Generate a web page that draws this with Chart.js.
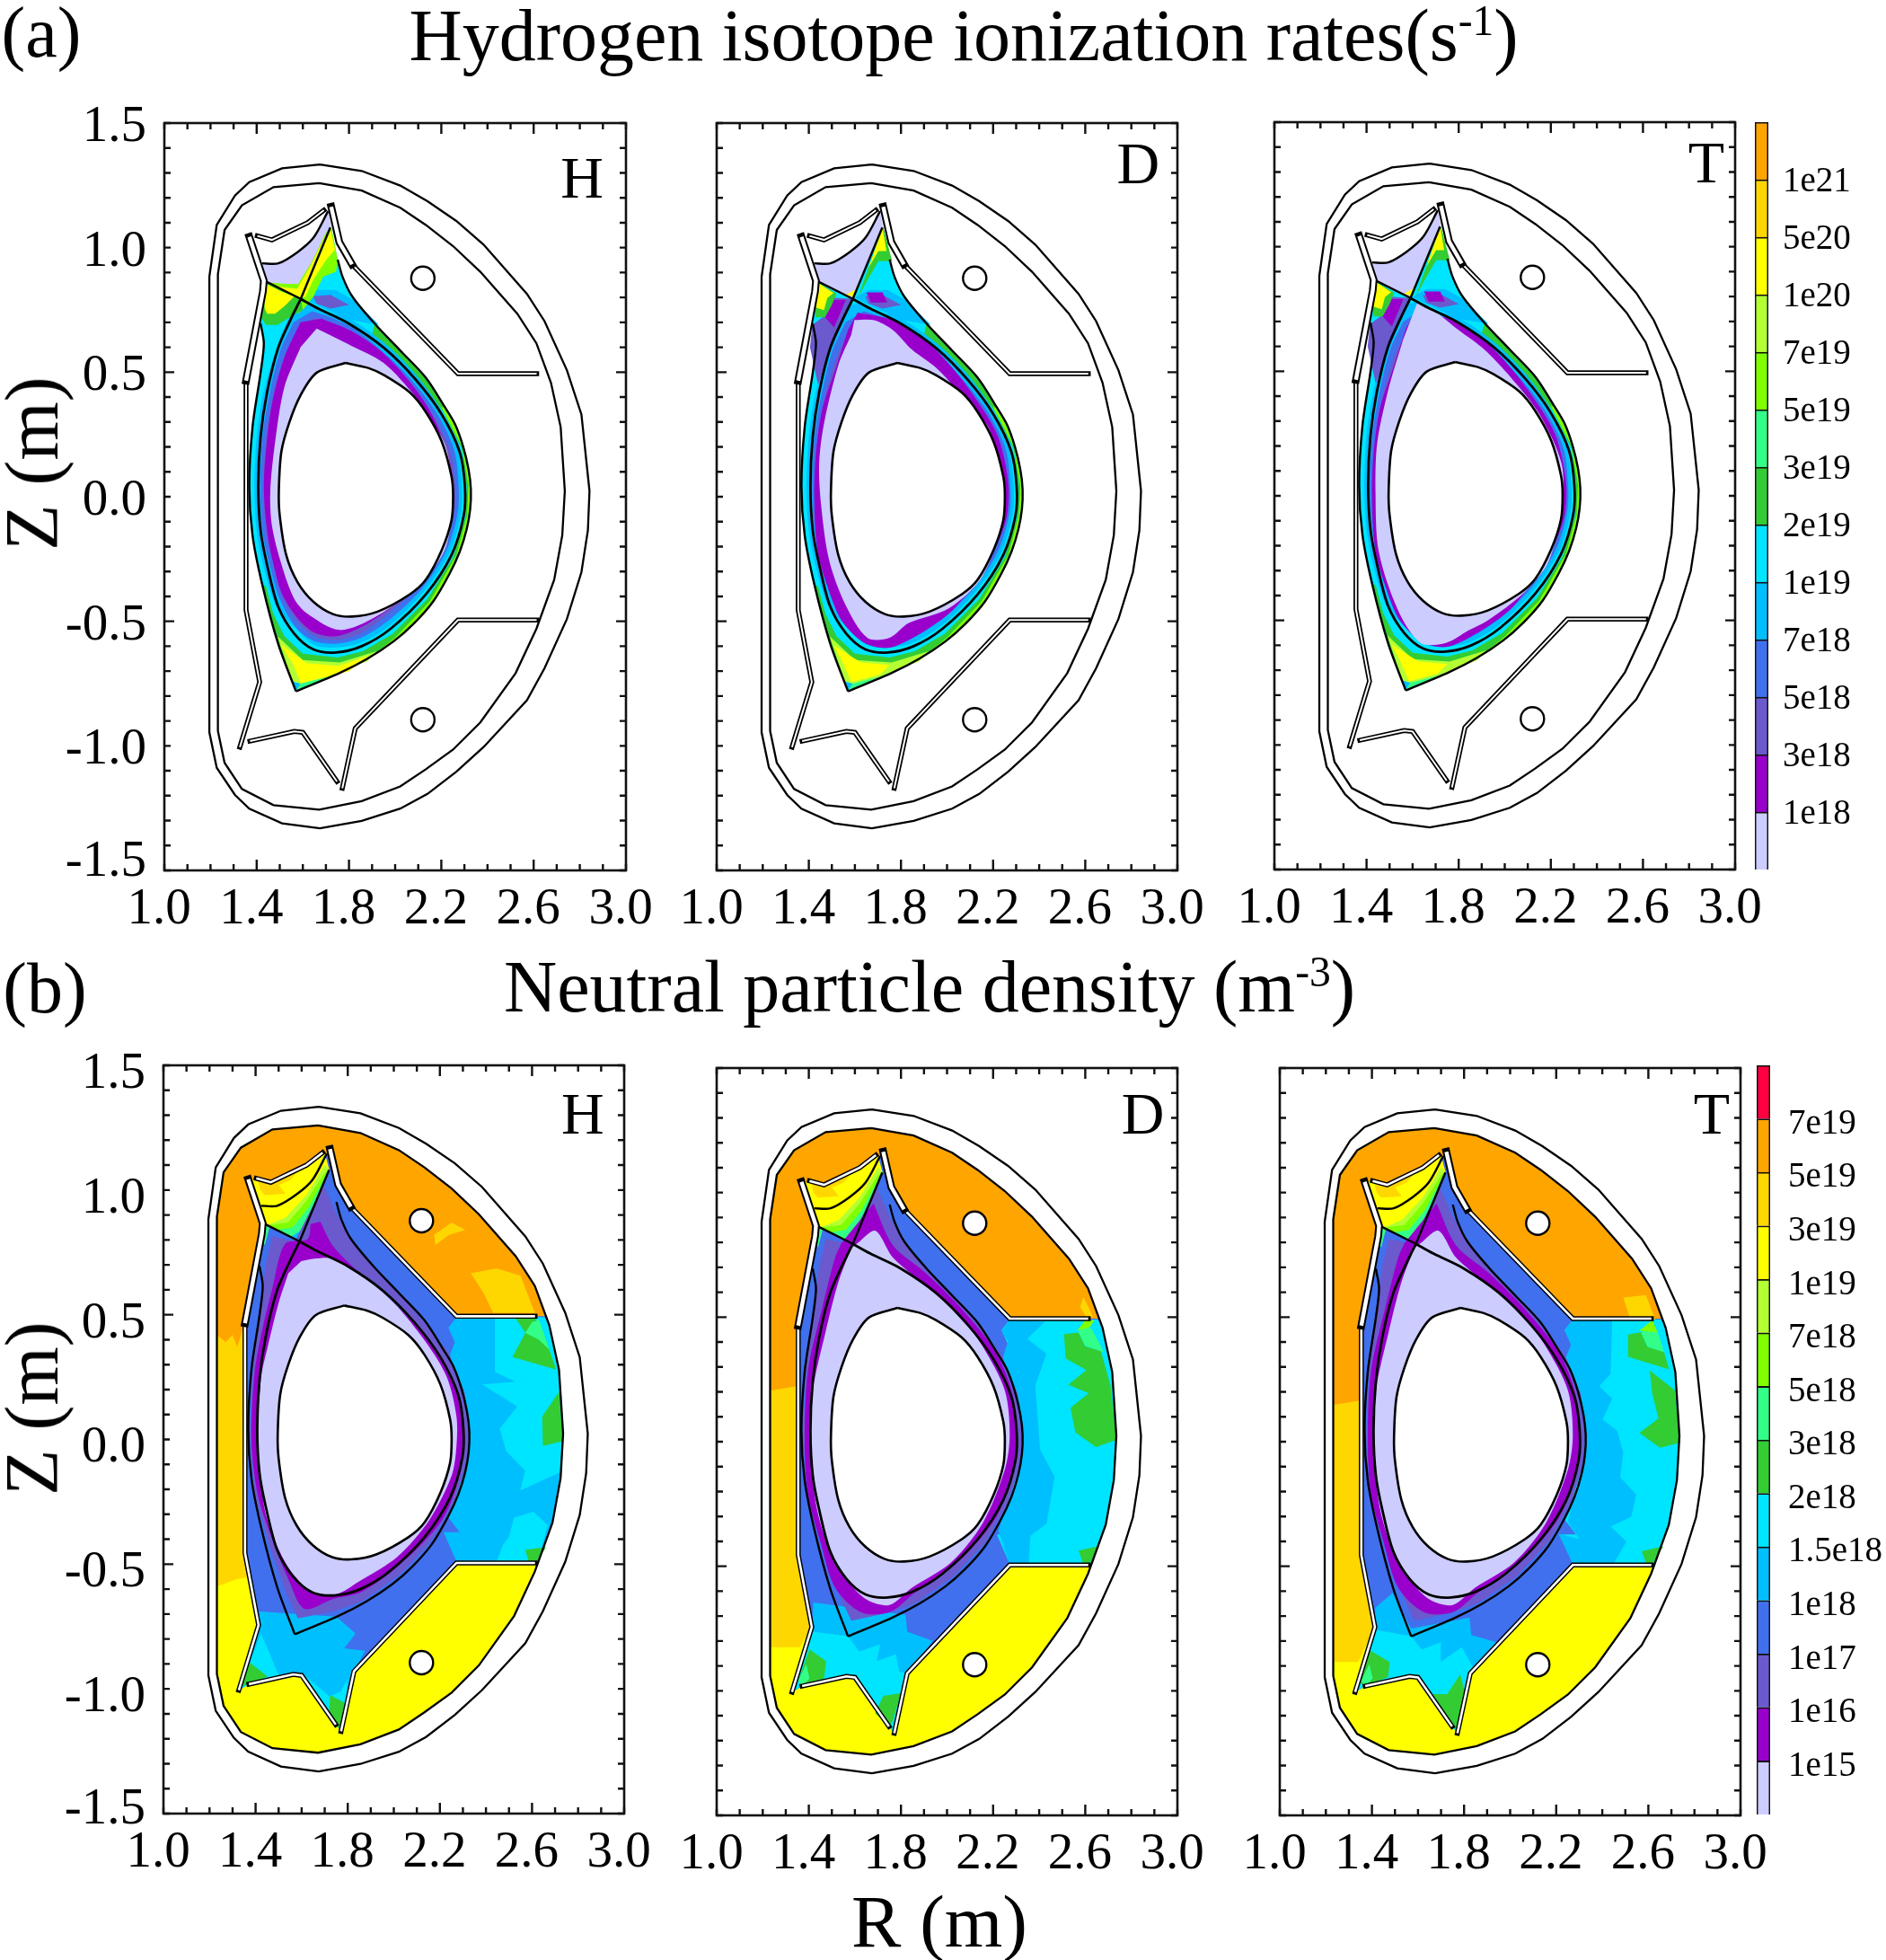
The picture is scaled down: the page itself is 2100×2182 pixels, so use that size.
<!DOCTYPE html>
<html>
<head>
<meta charset="utf-8">
<script src="https://cdn.jsdelivr.net/npm/chart.js"></script>
<style>
  html, body { margin: 0; padding: 0; background: #fff; }
  body { position: relative; width: 2100px; height: 2182px; overflow: hidden; }
  canvas { position: absolute; }
  .txt { position: absolute; font-family: "Liberation Serif", serif; color: #000; white-space: nowrap; transform: translate(-50%, -50%); line-height: 1; }
  .txt sup { font-size: 58%; line-height: 0; }
</style>
</head>
<body>
<script>
// level colours shared by the two colour bars
const LAV = '#ccccff', PUR = '#9900cc', SLA = '#6a5acd', ROY = '#4070ee', DEE = '#00bfff', CYA = '#00e5ff',
      LIM = '#33cc33', SPR = '#33ff88', CHA = '#80ff00', YGR = '#b3ff33', YEL = '#ffff00', GOL = '#ffd700',
      ORA = '#ffa500', RED = '#ff0040';

const rateLevels = ['1e18', '3e18', '5e18', '7e18', '1e19', '2e19', '3e19', '5e19', '7e19', '1e20', '5e20', '1e21'];
const rateColors = [LAV, PUR, SLA, ROY, DEE, CYA, LIM, SPR, CHA, YGR, YEL, GOL, ORA];
const densityLevels = ['1e15', '1e16', '1e17', '1e18', '1.5e18', '2e18', '3e18', '5e18', '7e18', '1e19', '3e19', '5e19', '7e19'];
const densityColors = [LAV, PUR, SLA, ROY, DEE, CYA, LIM, SPR, CHA, YGR, YEL, GOL, ORA, RED];

const rTickValues = [1.0, 1.4, 1.8, 2.2, 2.6, 3.0];
const rTickLabels = ['1.0', '1.4', '1.8', '2.2', '2.6', '3.0'];
// the -1.5 label sits a little above the corner so it clears the R labels
const zTickValues = [1.5, 1.0, 0.5, 0, -0.5, -1.0, -1.45];
const zTickLabels = ['1.5', '1.0', '0.5', '0.0', '-0.5', '-1.0', '-1.5'];
const rMajorTicks = [1.4, 1.8, 2.2, 2.6];
const zMajorTicks = [0.5, -0.5];

// machine outline, all [R, Z] in metres
const wallOuter = [[1.674,1.334],[1.855,1.308],[2.022,1.249],[2.14,1.186],[2.265,1.107],[2.383,1.012],[2.571,.814],[2.647,.705],[2.744,.508],[2.807,.33],[2.842,.023],[2.835,-.135],[2.807,-.303],[2.744,-.491],[2.647,-.689],[2.571,-.817],[2.383,-1.005],[2.265,-1.104],[2.14,-1.193],[2.022,-1.252],[1.855,-1.301],[1.674,-1.331],[1.51,-1.311],[1.368,-1.252],[1.306,-1.197],[1.227,-1.088],[1.195,-.946],[1.195,.883],[1.227,1.091],[1.306,1.209],[1.368,1.263],[1.51,1.318],[1.674,1.334]];
const wallInner = [[1.671,1.259],[1.855,1.229],[2.022,1.16],[2.133,1.091],[2.251,1.006],[2.369,.903],[2.529,.735],[2.612,.616],[2.675,.458],[2.717,.28],[2.735,.023],[2.724,-.155],[2.689,-.333],[2.612,-.53],[2.522,-.708],[2.369,-.906],[2.251,-1.015],[2.133,-1.094],[2.022,-1.163],[1.855,-1.222],[1.671,-1.256],[1.473,-1.238],[1.336,-1.173],[1.261,-1.068],[1.232,-.94],[1.232,.893],[1.261,1.071],[1.336,1.17],[1.473,1.243],[1.671,1.259]];
const coreHole = [[1.785,.537],[1.883,.517],[1.952,.488],[2.063,.419],[2.133,.34],[2.202,.221],[2.244,.082],[2.251,.003],[2.244,-.095],[2.202,-.214],[2.133,-.333],[2.063,-.392],[1.924,-.461],[1.813,-.481],[1.73,-.471],[1.646,-.422],[1.577,-.343],[1.528,-.234],[1.5,-.076],[1.496,.023],[1.507,.181],[1.542,.3],[1.591,.409],[1.66,.498],[1.785,.537]];
const separatrixLoop = [[1.591,.794],[1.667,.755],[1.799,.695],[1.952,.597],[2.091,.468],[2.202,.33],[2.279,.181],[2.302,.043],[2.297,-.076],[2.244,-.234],[2.133,-.392],[1.98,-.53],[1.855,-.6],[1.744,-.625],[1.646,-.613],[1.563,-.55],[1.493,-.441],[1.445,-.273],[1.417,-.135],[1.407,.043],[1.417,.241],[1.445,.419],[1.493,.597],[1.549,.715],[1.591,.794]];
const separatrixLegs = [[[1.442,.863],[1.591,.794]], [[1.591,.794],[1.719,1.081]]];
const meshEdgeRight = [[1.751,.952],[1.772,.883],[1.814,.804],[1.911,.695],[2.022,.587],[2.133,.478],[2.216,.359],[2.26,.29],[2.295,.2],[2.318,.11],[2.328,.03],[2.325,-.05],[2.31,-.13],[2.28,-.22],[2.235,-.31],[2.165,-.42],[2.08,-.51],[1.994,-.58],[1.88,-.65],[1.758,-.708],[1.57,-.781]];
const meshEdgeLeft = [[1.57,-.781],[1.493,-.59],[1.424,-.352],[1.382,-.155],[1.368,.043],[1.382,.28],[1.417,.498],[1.431,.616],[1.417,.695]];
const meshEdge = meshEdgeRight.concat(meshEdgeLeft);
const privateCurve = [[1.424,.937],[1.494,.937],[1.577,.982],[1.647,1.041],[1.709,1.146]];
const meshFill = meshEdge.concat([[1.431,.824],[1.445,.863]], privateCurve, [[1.723,1.081]]);
const solFill = meshEdge.concat([[1.431,.824],[1.445,.863],[1.591,.794],[1.723,1.081]]);

const thickPlates = [
  [[1.368,1.043],[1.431,.867],[1.427,.824],[1.354,.466]],
  [[1.723,1.164],[1.758,1.022],[1.813,.933]]
];
const thinPlates = [
  [[1.354,.466],[1.354,-.455],[1.413,-.744],[1.327,-1.005]],
  [[1.371,-.981],[1.563,-.942],[1.6,-.946],[1.748,-1.143]],
  [[1.771,-1.17],[1.827,-.93],[2.272,-.495],[2.613,-.495]],
  [[1.813,.933],[2.272,.494],[2.613,.494]],
  [[1.403,1.047],[1.466,1.031],[1.621,1.1],[1.691,1.15]]
];
const portCentres = [[2.12,.877],[2.12,-.895]];

// ionization rate bands, hydrogen case
const ringDeepRate = [[1.62,.78],[1.7,.745],[1.8,.715],[1.95,.62],[2.09,.49],[2.2,.345],[2.27,.19],[2.29,.04],[2.285,-.07],[2.235,-.225],[2.125,-.38],[1.98,-.515],[1.855,-.585],[1.745,-.605],[1.65,-.595],[1.57,-.53],[1.485,-.44],[1.43,-.28],[1.4,-.135],[1.39,.04],[1.4,.24],[1.43,.42],[1.48,.58],[1.53,.7],[1.58,.77]];
const ringRoyalRate = [[1.64,.745],[1.72,.72],[1.82,.675],[1.95,.58],[2.07,.47],[2.18,.335],[2.255,.19],[2.275,.04],[2.27,-.07],[2.22,-.22],[2.115,-.37],[1.98,-.49],[1.855,-.565],[1.745,-.59],[1.65,-.58],[1.57,-.525],[1.5,-.41],[1.455,-.27],[1.425,-.135],[1.415,.04],[1.425,.24],[1.455,.41],[1.5,.58],[1.56,.7]];
const ringSlateRate = [[1.65,.72],[1.73,.69],[1.83,.65],[1.95,.565],[2.07,.45],[2.17,.32],[2.24,.18],[2.262,.04],[2.255,-.07],[2.21,-.21],[2.1,-.36],[1.97,-.47],[1.85,-.55],[1.745,-.575],[1.65,-.56],[1.58,-.505],[1.51,-.4],[1.47,-.26],[1.44,-.135],[1.43,.04],[1.44,.23],[1.47,.4],[1.52,.56],[1.58,.67]];
const ringPurpleH = [[1.68,.715],[1.81,.665],[1.95,.575],[2.09,.43],[2.17,.31],[2.235,.15],[2.25,.03],[2.24,-.09],[2.19,-.22],[2.09,-.36],[1.96,-.46],[1.85,-.525],[1.745,-.56],[1.65,-.545],[1.58,-.49],[1.51,-.39],[1.47,-.26],[1.445,-.135],[1.431,.04],[1.445,.23],[1.47,.39],[1.52,.56],[1.59,.7]];
const ringLavH = [[1.66,.675],[1.81,.606],[1.95,.537],[2.09,.4],[2.14,.33],[2.22,.2],[2.25,0],[2.22,-.2],[2.12,-.34],[1.92,-.48],[1.76,-.535],[1.62,-.47],[1.563,-.41],[1.507,-.27],[1.466,-.115],[1.459,.023],[1.48,.22],[1.52,.44],[1.59,.6]];

// same bands for deuterium and tritium
const ringPurpleD = [[1.612,.739],[1.765,.709],[1.904,.63],[2.029,.511],[2.154,.353],[2.224,.234],[2.266,.056],[2.259,-.082],[2.21,-.2],[2.043,-.438],[1.904,-.537],[1.751,-.606],[1.64,-.586],[1.542,-.497],[1.48,-.358],[1.438,-.22],[1.424,-.002],[1.431,.175],[1.459,.353],[1.515,.511],[1.57,.67]];
const ringLavD = [[1.598,.709],[1.681,.709],[1.765,.669],[1.848,.59],[1.96,.511],[2.113,.353],[2.182,.274],[2.245,.056],[2.245,-.082],[2.154,-.319],[2.008,-.448],[1.834,-.507],[1.751,-.566],[1.654,-.566],[1.556,-.428],[1.487,-.25],[1.452,-.022],[1.445,.136],[1.466,.294],[1.529,.531],[1.584,.65]];
const ringLavT = [[1.62,.774],[1.69,.745],[1.8,.665],[1.912,.587],[2.024,.478],[2.149,.33],[2.246,.132],[2.249,-.027],[2.19,-.264],[2.079,-.392],[1.926,-.5],[1.843,-.54],[1.745,-.59],[1.634,-.59],[1.537,-.46],[1.453,-.224],[1.439,.013],[1.446,.21],[1.495,.428],[1.558,.626]];

const limeBand = [[1.911,.695],[2.022,.587],[2.133,.478],[2.216,.359],[2.26,.29],[2.295,.2],[2.318,.11],[2.328,.03],[2.325,-.05],[2.31,-.13],[2.28,-.22],[2.235,-.31],[2.165,-.42],[2.08,-.51],[1.994,-.58],[1.88,-.65],[1.758,-.708],[1.57,-.781],[1.493,-.59],[1.424,-.352],[1.44,-.36],[1.472,-.47],[1.52,-.56],[1.6,-.63],[1.75,-.645],[1.86,-.62],[1.99,-.55],[2.14,-.41],[2.25,-.245],[2.305,-.08],[2.31,.04],[2.29,.19],[2.21,.34],[2.1,.475],[1.96,.6],[1.9,.65]];
const edgeYellowGreen = [[2.216,.359],[2.26,.29],[2.295,.2],[2.318,.11],[2.328,.03],[2.325,-.05],[2.31,-.13],[2.28,-.22],[2.235,-.31],[2.165,-.42],[2.08,-.51],[1.994,-.58],[1.9,-.64],[2,-.565],[2.15,-.42],[2.265,-.235],[2.312,-.076],[2.318,.043],[2.29,.2],[2.2,.36]];
const bottomYellowGreen = [[1.49,-.56],[1.6,-.655],[1.76,-.665],[1.92,-.62],[1.88,-.66],[1.72,-.72],[1.57,-.781]];
const bottomYellowH = [[1.5,-.59],[1.619,-.669],[1.758,-.679],[1.883,-.639],[1.8,-.7],[1.688,-.728],[1.591,-.748],[1.556,-.669]];
const bottomYellowD = [[1.507,-.596],[1.626,-.665],[1.751,-.675],[1.709,-.714],[1.584,-.744],[1.542,-.655]];
const bottomSpring = [[1.57,-.781],[1.59,-.75],[1.7,-.725],[1.758,-.708]];
const bottomTip = [[1.57,-.781],[1.55,-.74],[1.59,-.75]];
const topBandDeep = [[1.6,.8],[1.66,.83],[1.74,.83],[1.82,.79],[1.93,.69],[1.8,.71],[1.67,.765]];
const topBandSlate = [[1.645,.805],[1.72,.81],[1.8,.77],[1.72,.755],[1.66,.775]];
const topBandPurple = [[1.65,.82],[1.72,.82],[1.74,.78],[1.67,.78]];

const upperGreenH = [[1.723,1.081],[1.751,.952],[1.744,.903],[1.688,.883],[1.646,.804],[1.605,.755],[1.577,.735]];
const upperYellowH = [[1.72,1.071],[1.739,.992],[1.702,.952],[1.646,.873],[1.612,.804],[1.591,.794]];
const armGreenH = [[1.45,.86],[1.53,.855],[1.58,.855],[1.64,.945],[1.7,1.06],[1.72,1.08],[1.591,.794]];
const armYellowH = [[1.445,.855],[1.52,.84],[1.575,.835],[1.63,.92],[1.7,1.05],[1.72,1.07],[1.591,.794]];
const innerGreenH = [[1.445,.86],[1.591,.794],[1.6,.75],[1.56,.73],[1.49,.69],[1.44,.69],[1.42,.72],[1.431,.82]];
const innerYellowH = [[1.445,.853],[1.507,.824],[1.563,.804],[1.521,.765],[1.48,.735],[1.445,.735],[1.435,.755],[1.431,.814]];

const upperGreenD = [[1.723,1.081],[1.762,.946],[1.702,.946],[1.653,.867],[1.612,.798]];
const upperYellowD = [[1.72,1.08],[1.737,.986],[1.702,.986],[1.66,.92]];
const armYellowD = [[1.44,.855],[1.5,.83],[1.56,.81],[1.6,.83],[1.67,.95],[1.72,1.07],[1.6,.8]];
const innerBlueD = [[1.5,.8],[1.591,.794],[1.5,.6],[1.44,.45],[1.405,.6],[1.415,.69],[1.46,.72]];
const innerPurpleD = [[1.49,.79],[1.56,.79],[1.51,.68],[1.47,.72]];
const innerGreenD = [[1.44,.86],[1.52,.815],[1.5,.77],[1.47,.72],[1.43,.72],[1.42,.8]];
const innerYellowD = [[1.442,.857],[1.507,.818],[1.48,.798],[1.466,.749],[1.431,.759],[1.424,.808]];

// neutral density regions shared by all three isotopes
const lowerYellow = [[1.232,-.5],[2.3,-.5],[2.624,-.5],[2.522,-.708],[2.369,-.906],[2.251,-1.015],[2.133,-1.094],[2.022,-1.163],[1.855,-1.222],[1.671,-1.256],[1.473,-1.238],[1.336,-1.173],[1.261,-1.068],[1.232,-.94]];
const interiorRoyal = [[1.354,.466],[1.354,-.455],[1.413,-.744],[1.327,-1.005],[1.371,-.981],[1.563,-.942],[1.6,-.946],[1.748,-1.143],[1.771,-1.17],[1.827,-.93],[2.272,-.495],[2.624,-.495],[2.689,-.333],[2.724,-.155],[2.735,.023],[2.717,.28],[2.675,.458],[2.658,.494],[2.272,.494],[1.813,.933],[1.758,1.022],[1.723,1.164],[1.45,.86],[1.427,.824]];
const rightRegion = [[2.272,.49],[2.655,.49],[2.675,.458],[2.717,.28],[2.735,.023],[2.724,-.155],[2.689,-.333],[2.624,-.49],[2.272,-.49],[2.216,-.372],[2.286,-.372],[2.237,-.313],[2.327,-.05],[2.32,.04],[2.28,.2],[2.244,.34],[2.265,.389],[2.237,.448]];
const privateYellow = [[1.37,1.04],[1.403,1.047],[1.466,1.031],[1.621,1.1],[1.7,1.15],[1.72,1.08],[1.591,.794],[1.445,.86]];
const privateGold = [[1.41,1.04],[1.47,1.03],[1.58,1.07],[1.55,1.04],[1.5,1.02],[1.53,.985],[1.44,.98],[1.42,1]];
const privateYellowGreen = [[1.45,.86],[1.53,.89],[1.62,.98],[1.7,1.1],[1.72,1.08],[1.591,.794]];
const privateChartreuse = [[1.46,.86],[1.54,.87],[1.62,.955],[1.7,1.07],[1.72,1.08],[1.591,.794]];
const privateSpring = [[1.49,.84],[1.56,.85],[1.63,.93],[1.7,1.05],[1.71,1.07],[1.6,.8]];
const privateDeep = [[1.55,.81],[1.6,.84],[1.66,.95],[1.71,1.07],[1.591,.794]];
const innerLegSpring = [[1.44,.86],[1.46,.85],[1.44,.78],[1.425,.8]];
const ringSlateDensity = [[1.695,1.021],[1.751,.903],[1.834,.774],[1.945,.666],[2.098,.508],[2.237,.349],[2.307,.191],[2.327,.023],[2.313,-.105],[2.265,-.244],[2.168,-.402],[2.029,-.54],[1.862,-.649],[1.737,-.689],[1.584,-.718],[1.535,-.62],[1.466,-.441],[1.396,-.224],[1.375,.013],[1.389,.29],[1.424,.567],[1.445,.705],[1.473,.814],[1.57,.794]];

const ringPurpleDensityH = [[1.681,.873],[1.737,.774],[1.876,.646],[2.043,.508],[2.195,.349],[2.286,.171],[2.307,.013],[2.286,-.145],[2.209,-.323],[2.029,-.5],[1.862,-.61],[1.737,-.639],[1.612,-.679],[1.542,-.56],[1.473,-.402],[1.41,-.224],[1.382,-.006],[1.396,.27],[1.431,.448],[1.473,.606],[1.528,.784],[1.626,.804],[1.639,.863]];
const ringLavDensityH = [[1.598,.715],[1.653,.725],[1.737,.725],[1.862,.656],[2,.547],[2.14,.389],[2.23,.25],[2.272,.092],[2.272,-.026],[2.251,-.145],[2.154,-.323],[2.015,-.471],[1.848,-.57],[1.751,-.62],[1.646,-.61],[1.563,-.54],[1.5,-.441],[1.445,-.303],[1.417,-.125],[1.41,.013],[1.424,.25],[1.452,.369],[1.5,.547],[1.542,.666]];
const ringPurpleDensityD = [[1.681,.956],[1.765,.788],[1.904,.68],[2.056,.541],[2.209,.363],[2.286,.185],[2.3,.027],[2.286,-.131],[2.209,-.309],[2.043,-.487],[1.862,-.605],[1.751,-.684],[1.626,-.684],[1.514,-.586],[1.452,-.408],[1.396,-.21],[1.382,.007],[1.396,.284],[1.459,.541],[1.514,.739],[1.542,.798]];
const ringLavDensityD = [[1.612,.798],[1.688,.847],[1.765,.739],[1.89,.64],[2.043,.521],[2.154,.383],[2.251,.205],[2.272,.027],[2.251,-.111],[2.154,-.328],[2.015,-.487],[1.848,-.586],[1.751,-.655],[1.653,-.635],[1.556,-.546],[1.493,-.447],[1.431,-.25],[1.41,.007],[1.417,.205],[1.473,.442],[1.528,.64],[1.584,.778]];

// hydrogen density patches
const goldLeftH = [[1.232,.42],[1.27,.39],[1.3,.42],[1.32,.37],[1.35,.46],[1.36,-.5],[1.38,-.55],[1.32,-.56],[1.232,-.59]];
const goldRightH = [[2.334,.666],[2.446,.686],[2.55,.656],[2.612,.508],[2.431,.508],[2.39,.587]];
const goldSmallH = [[2.175,.82],[2.25,.87],[2.31,.84],[2.24,.82],[2.18,.78]];
const cyanUpperH = [[2.439,.49],[2.655,.49],[2.675,.458],[2.717,.28],[2.735,.023],[2.727,-.13],[2.549,-.204],[2.57,-.125],[2.487,-.046],[2.46,.043],[2.536,.132],[2.383,.221],[2.529,.231],[2.439,.27]];
const cyanLowerH = [[2.522,-.313],[2.606,-.29],[2.668,-.343],[2.624,-.49],[2.446,-.49],[2.474,-.422],[2.5,-.39]];
const greenTopH = [[2.515,.33],[2.571,.428],[2.529,.485],[2.615,.485],[2.66,.4],[2.705,.28]];
const springTopH = [[2.571,.428],[2.6,.47],[2.63,.48],[2.675,.36],[2.63,.4]];
const greenMidH = [[2.644,.092],[2.717,.191],[2.733,-.006],[2.647,-.026]];
const greenLowH = [[2.571,-.442],[2.661,-.432],[2.62,-.49],[2.585,-.49]];
const lowerDeepH = [[1.415,-.69],[1.75,-.71],[1.834,-.778],[1.785,-.837],[1.875,-.847],[1.827,-.93],[1.771,-1.17],[1.748,-1.143],[1.6,-.946],[1.563,-.942],[1.371,-.981],[1.327,-1.005],[1.413,-.744]];
const lowerCyanH = [[1.424,-.778],[1.5,-.945],[1.6,-.935],[1.72,-1.03],[1.77,-1.01],[1.8,-.96],[1.787,-1.1],[1.771,-1.17],[1.748,-1.143],[1.6,-.946],[1.563,-.942],[1.371,-.981],[1.327,-1.005]];
const lowerGreenH = [[1.375,-.895],[1.452,-.95],[1.371,-.981],[1.335,-.99]];
const tipGreenH = [[1.723,-1.025],[1.785,-1.055],[1.771,-1.17],[1.748,-1.143],[1.72,-1.094]];

// deuterium density patches
const goldLeftD = [[1.232,.205],[1.36,.225],[1.36,-.5],[1.413,-.744],[1.36,-.825],[1.232,-.825]];
const goldRightD = [[2.578,.541],[2.592,.581],[2.633,.502],[2.61,.49]];
const deepMidD = [[2.272,.49],[2.425,.482],[2.348,.413],[2.432,.353],[2.383,.225],[2.404,-.032],[2.467,-.141],[2.432,-.329],[2.362,-.378],[2.355,-.49],[2.272,-.49],[2.223,-.358],[2.327,-.05],[2.32,.04],[2.28,.2],[2.244,.344],[2.265,.403],[2.237,.442]];
const greenMidD = [[2.508,.432],[2.571,.438],[2.599,.383],[2.668,.363],[2.71,.225],[2.735,.007],[2.647,-.022],[2.557,.037],[2.536,.136],[2.615,.195],[2.526,.229],[2.605,.288],[2.515,.334]];
const springTopD = [[2.571,.44],[2.6,.47],[2.63,.45],[2.68,.36],[2.6,.385]];
const chartreuseTopD = [[2.565,.445],[2.6,.488],[2.64,.488],[2.62,.46]];
const greenLowD = [[2.571,-.437],[2.661,-.418],[2.62,-.487],[2.59,-.487]];
const lowerDeepD = [[1.42,-.645],[1.82,-.695],[1.827,-.763],[1.938,-.8],[1.827,-.93],[1.771,-1.17],[1.748,-1.143],[1.6,-.946],[1.563,-.942],[1.371,-.981],[1.327,-1.005],[1.413,-.744]];
const lowerCyanD = [[1.417,-.763],[1.57,-.781],[1.619,-.843],[1.709,-.813],[1.695,-.882],[1.778,-.853],[1.792,-.922],[1.827,-.93],[1.79,-1.08],[1.771,-1.17],[1.748,-1.143],[1.6,-.946],[1.563,-.942],[1.371,-.981],[1.327,-1.005]];
const lowerGreenD = [[1.403,-.833],[1.475,-.882],[1.466,-.95],[1.371,-.981],[1.354,-.96]];
const lowerSpringD = [[1.354,-.96],[1.389,-.892],[1.403,-.95],[1.371,-.981]];
const tipGreenD = [[1.688,-1.09],[1.723,-1.02],[1.799,-1.01],[1.765,-1.12],[1.75,-1.143]];

// tritium density patches
const goldLeftT = [[1.232,.148],[1.36,.167],[1.36,-.5],[1.413,-.744],[1.34,-.884],[1.232,-.884]];
const goldRightT = [[2.491,.579],[2.589,.589],[2.63,.49],[2.519,.5]];
const deepMidT = [[2.272,.49],[2.443,.49],[2.436,.272],[2.387,.223],[2.443,.173],[2.401,.088],[2.464,.045],[2.491,-.044],[2.478,-.143],[2.547,-.212],[2.526,-.301],[2.436,-.341],[2.505,-.4],[2.449,-.49],[2.272,-.49],[2.21,-.37],[2.3,-.39],[2.25,-.32],[2.327,-.05],[2.32,.04],[2.28,.2],[2.244,.34],[2.265,.389],[2.237,.448]];
const greenTopT = [[2.512,.43],[2.568,.44],[2.596,.381],[2.668,.36],[2.69,.29],[2.512,.341]];
const greenMidT = [[2.606,.286],[2.714,.207],[2.738,-.004],[2.651,-.024],[2.561,.035],[2.644,.094],[2.617,.193]];
const springTopT = [[2.568,.44],[2.617,.45],[2.64,.44],[2.668,.36],[2.596,.381]];
const chartreuseTopT = [[2.56,.445],[2.617,.488],[2.64,.44]];
const greenLowT = [[2.571,-.44],[2.665,-.42],[2.62,-.487],[2.59,-.487]];
const lowerDeepT = [[1.414,-.667],[1.49,-.607],[1.57,-.75],[1.824,-.706],[1.831,-.776],[1.942,-.805],[1.827,-.93],[1.771,-1.17],[1.748,-1.143],[1.6,-.946],[1.563,-.942],[1.371,-.981],[1.327,-1.005],[1.413,-.744]];
const lowerCyanT = [[1.421,-.756],[1.57,-.781],[1.616,-.835],[1.699,-.805],[1.699,-.884],[1.79,-.825],[1.838,-.904],[1.79,-1.08],[1.771,-1.17],[1.748,-1.143],[1.6,-.946],[1.563,-.942],[1.371,-.981],[1.327,-1.005]];
const lowerGreenT = [[1.386,-.835],[1.477,-.884],[1.47,-.945],[1.371,-.981],[1.345,-.965]];
const tipGreenT = [[1.664,-1.013],[1.727,-1.013],[1.783,-.934],[1.803,-1.003],[1.771,-1.17],[1.74,-1.12]];

const rateHot = (ringPurple, ringLav, extras) => [
  [meshFill, LAV],
  ...extras.arms,
  [solFill, CYA],
  [limeBand, LIM],
  [edgeYellowGreen, CHA],
  [bottomYellowGreen, YGR],
  [extras.bottom, YEL],
  [bottomSpring, SPR],
  [bottomTip, DEE],
  [ringDeepRate, DEE, true],
  [ringRoyalRate, ROY, true],
  [ringSlateRate, SLA, true],
  [ringPurple, PUR, true],
  [ringLav, LAV, true],
  [topBandDeep, DEE],
  [topBandSlate, SLA],
  ...extras.top
];

const rateLayersH = rateHot(ringPurpleH, ringLavH, {
  arms: [[armGreenH, CHA], [armYellowH, YEL]],
  bottom: bottomYellowH,
  top: [[upperGreenH, CHA], [upperYellowH, YEL], [innerGreenH, LIM], [innerYellowH, YEL]]
});
const rateLayersD = rateHot(ringPurpleD, ringLavD, {
  arms: [[armYellowD, YEL]],
  bottom: bottomYellowD,
  top: [[topBandPurple, PUR], [upperGreenD, LIM], [upperYellowD, YEL], [innerBlueD, SLA], [innerPurpleD, PUR], [innerGreenD, LIM], [innerYellowD, YEL]]
});
const rateLayersT = rateHot(ringPurpleD, ringLavT, {
  arms: [[armYellowD, YEL]],
  bottom: bottomYellowD,
  top: [[topBandPurple, PUR], [upperGreenD, LIM], [upperYellowD, YEL], [innerBlueD, SLA], [innerPurpleD, PUR], [innerGreenD, LIM], [innerYellowD, YEL]]
});

const densityBase = (goldLeft) => [[wallInner, ORA], [lowerYellow, YEL], [goldLeft, GOL], [interiorRoyal, ROY]];
const densityCore = (ringPurple, ringLav) => [
  [privateYellow, YEL], [privateGold, GOL], [privateYellowGreen, YGR], [privateChartreuse, CHA],
  [privateSpring, SPR], [privateDeep, DEE], [innerLegSpring, SPR],
  [ringSlateDensity, SLA], [ringPurple, PUR, true], [ringLav, LAV, true]
];
const densityLayersH = [
  ...densityBase(goldLeftH), [goldRightH, GOL], [goldSmallH, GOL],
  [rightRegion, DEE], [cyanUpperH, CYA], [cyanLowerH, CYA], [greenTopH, LIM], [springTopH, SPR], [greenMidH, LIM], [greenLowH, LIM],
  [lowerDeepH, DEE], [lowerCyanH, CYA], [lowerGreenH, LIM], [tipGreenH, LIM],
  ...densityCore(ringPurpleDensityH, ringLavDensityH)
];
const densityLayersD = [
  ...densityBase(goldLeftD), [goldRightD, GOL],
  [rightRegion, CYA], [deepMidD, DEE], [greenMidD, LIM], [springTopD, SPR], [chartreuseTopD, CHA], [greenLowD, LIM],
  [lowerDeepD, DEE], [lowerCyanD, CYA], [lowerGreenD, LIM], [lowerSpringD, SPR], [tipGreenD, LIM],
  ...densityCore(ringPurpleDensityD, ringLavDensityD)
];
const densityLayersT = [
  ...densityBase(goldLeftT), [goldRightT, GOL],
  [rightRegion, CYA], [deepMidT, DEE], [greenTopT, LIM], [greenMidT, LIM], [springTopT, SPR], [chartreuseTopT, CHA], [greenLowT, LIM],
  [lowerDeepT, DEE], [lowerCyanT, CYA], [lowerGreenT, LIM], [lowerSpringD, SPR], [tipGreenT, LIM],
  ...densityCore(ringPurpleDensityD, ringLavDensityD)
];

const SERIF = '"Liberation Serif", serif';
const PAD = { left: 130, right: 48, top: 70, bottom: 78 };

function toPoints(list) {
  return list.map(p => ({ x: p[0], y: p[1] }));
}

function fillSet(list, color, smooth) {
  return { data: toPoints(list), showLine: true, fill: 'shape', backgroundColor: color, borderColor: 'rgba(0,0,0,0)', borderWidth: 0, pointRadius: 0, tension: smooth ? 0.3 : 0 };
}

function lineSet(list, color, width, cap, smooth) {
  return { data: toPoints(list), showLine: true, fill: false, borderColor: color, borderWidth: width, borderCapStyle: cap || 'butt', borderJoinStyle: 'miter', pointRadius: 0, tension: smooth ? 0.3 : 0 };
}

// frame, inward ticks on all four sides and the isotope letter
const panelFrame = {
  id: 'panelFrame',
  afterDraw(chart, args, opts) {
    const { ctx, chartArea: a, scales: { x, y } } = chart;
    ctx.save();
    ctx.strokeStyle = '#111';
    ctx.lineWidth = 2.4;
    ctx.beginPath();
    x.ticks.forEach(t => {
      const px = x.getPixelForValue(t.value);
      const len = rMajorTicks.some(v => Math.abs(v - t.value) < 1e-6) ? 12 : 7;
      ctx.moveTo(px, a.top); ctx.lineTo(px, a.top + len);
      ctx.moveTo(px, a.bottom); ctx.lineTo(px, a.bottom - len);
    });
    y.ticks.forEach(t => {
      // only the 0.1 grid gets a mark, the shifted label anchor does not
      if (Math.abs(t.value * 10 - Math.round(t.value * 10)) > 1e-3) return;
      const py = y.getPixelForValue(t.value);
      const len = zMajorTicks.some(v => Math.abs(v - t.value) < 1e-6) ? 11 : 7;
      ctx.moveTo(a.left, py); ctx.lineTo(a.left + len, py);
      ctx.moveTo(a.right, py); ctx.lineTo(a.right - len, py);
    });
    ctx.stroke();
    ctx.lineWidth = 2.6;
    ctx.strokeRect(a.left, a.top, a.right - a.left, a.bottom - a.top);
    ctx.fillStyle = '#000';
    ctx.font = '66px ' + SERIF;
    ctx.textAlign = 'center';
    ctx.textBaseline = 'middle';
    ctx.fillText(opts.letter, x.getPixelForValue(opts.at[0]), y.getPixelForValue(opts.at[1]));
    ctx.restore();
  }
};

function addCanvas(left, top, width, height) {
  const c = document.createElement('canvas');
  c.width = width;
  c.height = height;
  c.style.left = left + 'px';
  c.style.top = top + 'px';
  c.style.width = width + 'px';
  c.style.height = height + 'px';
  document.body.appendChild(c);
  return c;
}

function addPanel(frame, layers, density, letter, at, showZ) {
  const sets = layers.map(l => fillSet(l[0], l[1], l[2]));
  sets.push(fillSet(coreHole, '#ffffff', true));
  sets.push(lineSet(wallOuter, '#000', 2.3));
  sets.push(lineSet(wallInner, '#000', 2.3));
  sets.push(lineSet(coreHole, '#000', 2.6, 'butt', true));
  sets.push(lineSet(meshEdgeRight, '#000', 2.4, 'butt', true));
  sets.push(lineSet(meshEdgeLeft, '#000', 2.4, 'butt', true));
  sets.push(lineSet(privateCurve, '#000', 2.4, 'butt', true));
  sets.push(lineSet(separatrixLoop, '#000', 2.8, 'butt', true));
  separatrixLegs.forEach(p => { sets.push(lineSet(p, '#000', 2.4)); });
  thinPlates.forEach(p => { sets.push(lineSet(p, '#000', 5.5, 'square')); });
  thinPlates.forEach(p => { sets.push(lineSet(p, '#fff', density ? 2.6 : 2)); });
  thickPlates.forEach(p => { sets.push(lineSet(p, '#000', 8.5, 'square')); });
  thickPlates.forEach(p => { sets.push(lineSet(p, '#fff', 4.4)); });
  sets.push({
    data: toPoints(portCentres), showLine: false, pointRadius: 13, pointBackgroundColor: '#fff',
    pointBorderColor: '#000', pointBorderWidth: 2.4
  });

  const w = frame[1] - frame[0], h = frame[3] - frame[2];
  const canvas = addCanvas(frame[0] - PAD.left, frame[2] - PAD.top, w + PAD.left + PAD.right, h + PAD.top + PAD.bottom);
  new Chart(canvas, {
    type: 'scatter',
    // the first dataset is drawn last, so the stack is handed over back to front
    data: { datasets: sets.reverse() },
    options: {
      responsive: false,
      animation: false,
      layout: { padding: { top: PAD.top, right: PAD.right, left: 0, bottom: 0 } },
      plugins: { legend: { display: false }, tooltip: { enabled: false }, panelFrame: { letter: letter, at: at } },
      scales: {
        x: {
          type: 'linear', min: 1, max: 3,
          afterFit(s) { s.height = PAD.bottom; },
          grid: { display: false }, border: { display: false },
          ticks: {
            stepSize: 0.1, autoSkip: false, maxRotation: 0, minRotation: 0, color: '#000', labelOffset: -6, padding: 2,
            font: { family: SERIF, size: 57 },
            callback(v) {
              const i = rTickValues.findIndex(t => Math.abs(t - v) < 1e-6);
              return i < 0 ? '' : rTickLabels[i];
            }
          }
        },
        y: {
          type: 'linear', min: -1.5, max: 1.5,
          afterFit(s) { s.width = PAD.left; },
          afterBuildTicks(s) {
            s.ticks.push({ value: -1.45 });
            s.ticks.sort((p, q) => p.value - q.value);
          },
          grid: { display: false }, border: { display: false },
          ticks: {
            display: showZ, stepSize: 0.1, autoSkip: false, color: '#000', padding: 12, labelOffset: density ? 10 : 5,
            font: { family: SERIF, size: 57 },
            callback(v) {
              const i = zTickValues.findIndex(t => Math.abs(t - v) < 1e-6);
              return i < 0 ? '' : zTickLabels[i];
            }
          }
        }
      }
    },
    plugins: [panelFrame]
  });
}

function addColorBar(frame, levels, colors, labelShift, labelGap) {
  const w = frame[1] - frame[0], h = frame[3] - frame[2];
  const canvas = addCanvas(frame[0] - 2, frame[2] - 50, w + 145, h + 100);
  new Chart(canvas, {
    type: 'bar',
    data: {
      labels: ['level'],
      datasets: colors.map(c => ({ data: [1], backgroundColor: c, borderColor: '#111', borderWidth: 1.8, barPercentage: 1, categoryPercentage: 1 }))
    },
    options: {
      responsive: false,
      animation: false,
      layout: { padding: { top: 50, bottom: 50, left: 2, right: 0 } },
      plugins: { legend: { display: false }, tooltip: { enabled: false } },
      scales: {
        x: { stacked: true, display: false },
        y: {
          stacked: true, position: 'right', min: 0, max: colors.length,
          afterFit(s) { s.width = 143; },
          grid: { display: false }, border: { display: false },
          ticks: {
            stepSize: 1, autoSkip: false, color: '#000', padding: labelGap, labelOffset: labelShift,
            font: { family: SERIF, size: 39 },
            callback(v) { return levels[v - 1] || ''; }
          }
        }
      }
    }
  });
}

function addText(html, x, y, size, rotate) {
  const d = document.createElement('div');
  d.className = 'txt';
  d.innerHTML = html;
  d.style.left = x + 'px';
  d.style.top = y + 'px';
  d.style.fontSize = size + 'px';
  if (rotate) d.style.transform = 'translate(-50%, -50%) rotate(-90deg)';
  document.body.appendChild(d);
}

addPanel([183, 697, 137, 969], rateLayersH, false, 'H', [2.81, 1.262], true);
addPanel([798, 1311, 137, 969], rateLayersD, false, 'D', [2.83, 1.32], false);
addPanel([1419, 1932, 136, 968], rateLayersT, false, 'T', [2.875, 1.32], false);
addPanel([182, 695, 1186, 2019], densityLayersH, true, 'H', [2.82, 1.29], true);
addPanel([798, 1311, 1189, 2021], densityLayersD, true, 'D', [2.85, 1.3], false);
addPanel([1425, 1938, 1189, 2021], densityLayersT, true, 'T', [2.875, 1.3], false);

addColorBar([1954, 1969, 136, 968], rateLevels, rateColors, 3, 8);
addColorBar([1956, 1971, 1186, 2020], densityLevels, densityColors, 6, 12);

addText('Hydrogen isotope ionization rates(s<sup>-1</sup>)', 1073, 40, 82);
addText('Neutral particle density (m<sup>-3</sup>)', 1035, 1099, 82);
addText('(a)', 46, 36, 80);
addText('(b)', 50, 1100, 80);
addText('R (m)', 1046, 2139, 83);
addText('Z (m)', 36, 516, 84, true);
addText('Z (m)', 36, 1568, 84, true);
</script>
</body>
</html>
